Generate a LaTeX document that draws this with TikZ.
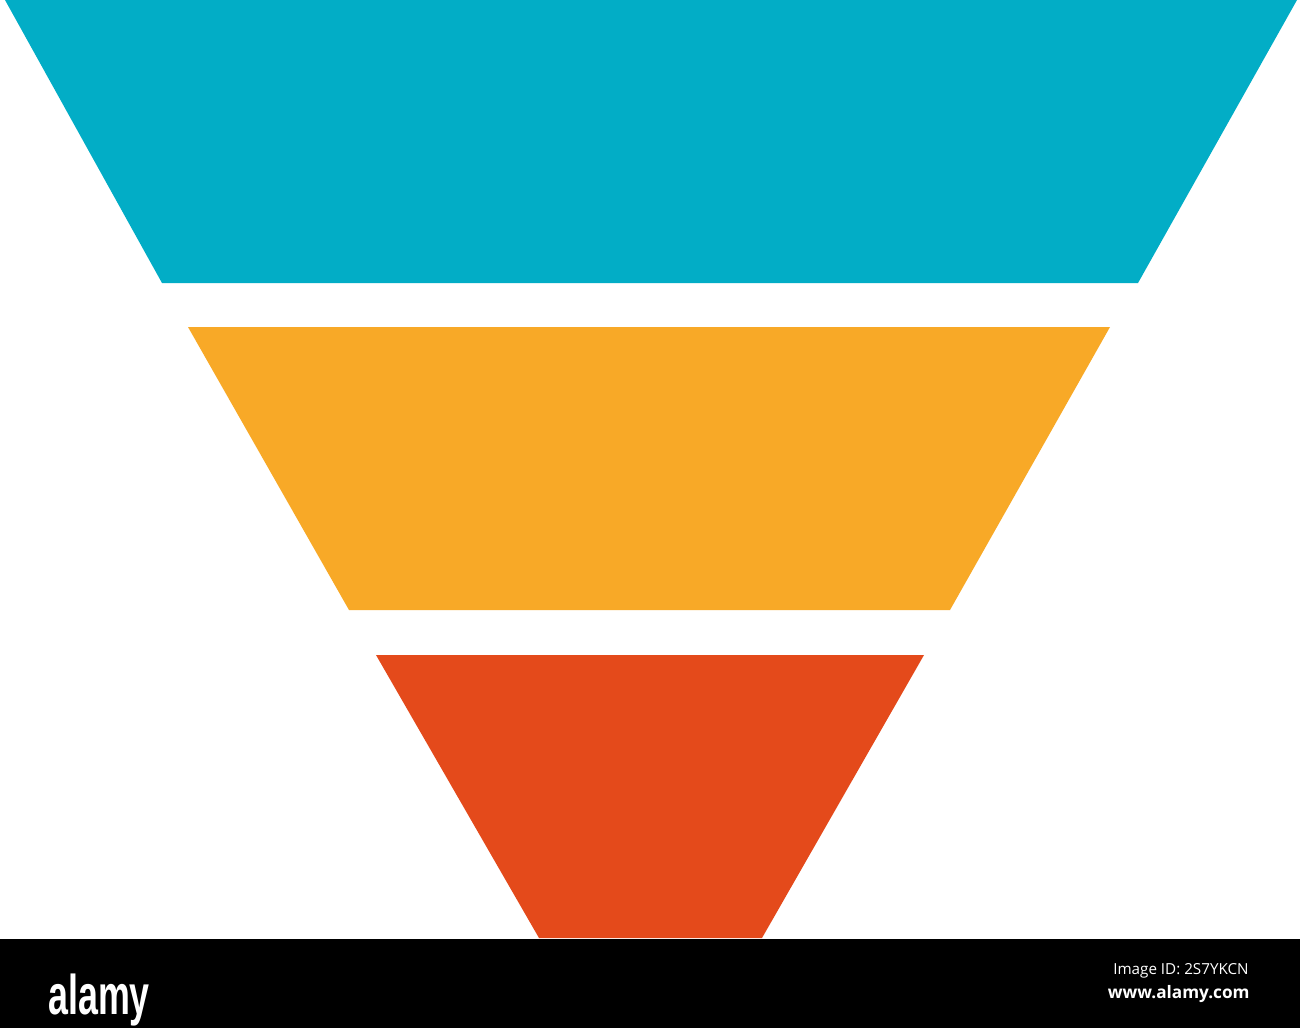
\documentclass[tikz,border=0pt]{standalone}
\usepackage{fontspec}
\setmainfont{Open Sans}
\newfontfamily\logofont{Liberation Sans}
\definecolor{funnelteal}{HTML}{02ADC6}
\definecolor{funnelorange}{HTML}{F8A927}
\definecolor{funnelred}{HTML}{E44A1B}
\begin{document}
\begin{tikzpicture}[x=0.5pt,y=-0.5pt,
  layer/.style={draw=none},
  idtext/.style={text=white,inner sep=0pt,anchor=east,font=\fontsize{7.6}{9}\selectfont},
  urltext/.style={text=white,inner sep=0pt,anchor=east,font=\fontsize{8.6}{10}\selectfont\bfseries}]
\useasboundingbox (0,0) rectangle (1300,1028);
\fill[white] (0,0) rectangle (1300,1028);
% funnel layers
\fill[funnelteal,layer] (5,0) -- (1297,0) -- (1138,283) -- (162,283) -- cycle;
\fill[funnelorange,layer] (188,327) -- (1110,327) -- (950,610) -- (349,610) -- cycle;
\fill[funnelred,layer] (376,655) -- (924,655) -- (762,938) -- (539,938) -- cycle;
% bottom bar
\fill[black] (0,939) rectangle (1300,1028);
\node[text=white,inner sep=0pt,anchor=base west,xscale=0.64,font=\logofont\bfseries\fontsize{28}{30}\selectfont] (logo) at (48,1014) {alamy};
\node[idtext] (imgid) at (1249,971) {Image ID: 2S7YKCN};
\node[urltext] (url) at (1250,994) {www.alamy.com};
\end{tikzpicture}
\end{document}
